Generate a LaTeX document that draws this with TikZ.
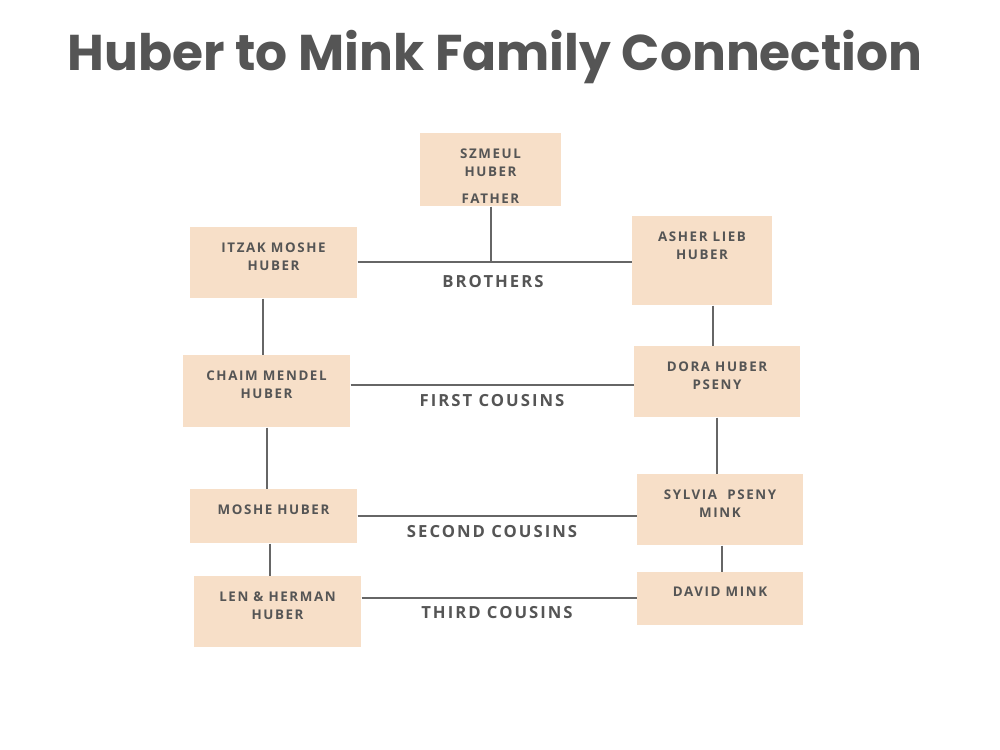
\documentclass[tikz,border=0pt]{standalone}
\usepackage{fontspec}
\setmainfont{Poppins}
\newfontfamily\boxfont[LetterSpace=12]{Open Sans}
\usetikzlibrary{positioning}
\definecolor{boxfill}{HTML}{F7DFC8}
\definecolor{inkgray}{HTML}{555555}
\tikzset{
  fambox/.style={fill=boxfill,draw=none,inner sep=0pt},
  famtext/.style={anchor=north,align=center,text=inkgray,font=\boxfont\bfseries\fontsize{7.6}{10.4}\selectfont,inner sep=0pt},
  reltext/.style={text=inkgray,font=\boxfont\bfseries\fontsize{9.5}{11}\selectfont,inner sep=0pt},
  link/.style={draw=inkgray!90,line width=1.1pt}
}
% box from (x1,y1) to (x2,y2) in pixels, text at the top
\newcommand{\famnode}[6]{%
  \node[fambox,minimum width={(#4-#2)*0.02cm},minimum height={(#5-#3)*0.02cm},anchor=north west] (#1) at (#2,#3) {};
  \node[famtext] (#1-t) at ({(#2+#4)/2},#3+15) {#6};
}
\begin{document}
\begin{tikzpicture}[x=0.02cm,y=-0.02cm]
\useasboundingbox (0,0) rectangle (1000,750);
\node[text=inkgray,font=\fontsize{28.6}{32}\selectfont\bfseries] (title) at (495,57) {Huber to Mink Family Connection};
% people
\famnode{szmeul}{420}{133}{561}{206}{SZMEUL\\HUBER\\[5pt]FATHER}
\famnode{itzak}{190}{227}{357}{298}{ITZAK MOSHE\\HUBER}
\famnode{asher}{632}{216}{772}{305}{ASHER LIEB\\HUBER}
\famnode{chaim}{183}{355}{350}{427}{CHAIM MENDEL\\HUBER}
\famnode{dora}{634}{346}{800}{417}{DORA HUBER\\PSENY}
\famnode{moshe}{190}{489}{357}{543}{MOSHE HUBER}
\famnode{sylvia}{637}{474}{803}{545}{SYLVIA\ \ PSENY\\MINK}
\famnode{len}{194}{576}{361}{647}{LEN \& HERMAN\\HUBER}
\famnode{david}{637}{572}{803}{625}{DAVID MINK}
% connectors
\coordinate (bro) at (szmeul.south |- 0,262);
\draw[link] (szmeul.south) -- (bro);
\draw[link] (itzak.east |- bro) -- (asher.west |- bro);
\draw[link] (itzak.south -| 263,0) -- (chaim.north -| 263,0);
\draw[link] (asher.south -| 713,0) -- (dora.north -| 713,0);
\draw[link] (chaim.east |- 0,385) -- (dora.west |- 0,385);
\draw[link] (chaim.south -| 267,0) -- (moshe.north -| 267,0);
\draw[link] (dora.south -| 717,0) -- (sylvia.north -| 717,0);
\draw[link] (moshe.east |- 0,516) -- (sylvia.west |- 0,516);
\draw[link] (moshe.south -| 270,0) -- (len.north -| 270,0);
\draw[link] (sylvia.south -| 722,0) -- (david.north -| 722,0);
\draw[link] (len.east |- 0,598) -- (david.west |- 0,598);
% relations
\node[reltext] (brothers) at (493,282) {BROTHERS};
\node[reltext] (first) at (492,401) {FIRST COUSINS};
\node[reltext] (second) at (492,532) {SECOND COUSINS};
\node[reltext] (third) at (497,613) {THIRD COUSINS};
\end{tikzpicture}
\end{document}
